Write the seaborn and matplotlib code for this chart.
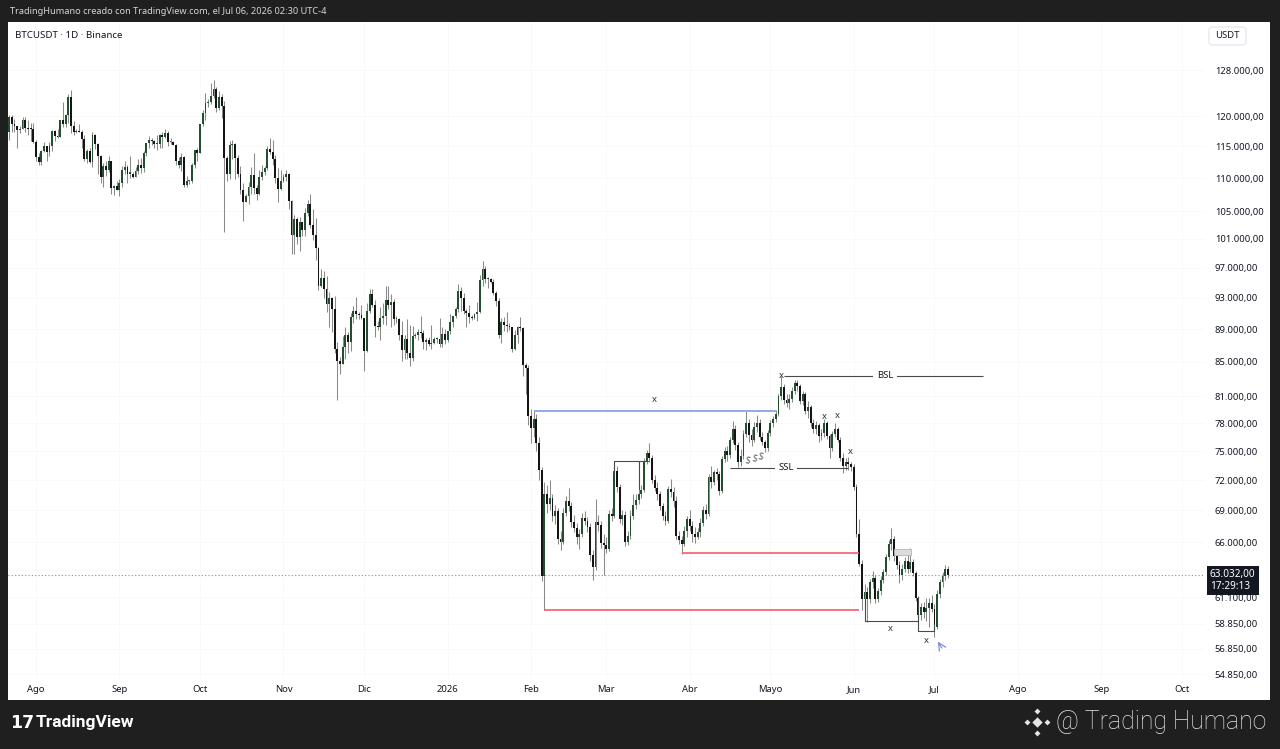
import numpy as np
import pandas as pd
import matplotlib
matplotlib.use("Agg")
import matplotlib.pyplot as plt
import matplotlib.dates as mdates
import matplotlib.ticker as mticker
from matplotlib.patches import Rectangle, FancyBboxPatch
import seaborn as sns

# BTCUSDT 1D candles, 22 Jul 2025 .. 6 Jul 2026, prices in thousands of USDT
# open of each candle = close of the previous one
start_date = "2025-07-22"
first_open = 117.4

close = [
    # jul 22-31
    119.9, 118.7, 118.3, 117.6, 117.9, 119.4, 118.0, 117.9, 117.8, 115.7,
    # aug
    113.3, 112.5, 114.2, 115.0, 114.1, 115.0, 117.5, 116.6, 116.5, 119.3,
    118.7, 120.1, 123.3, 118.3, 117.4, 117.5, 117.4, 116.2, 112.9, 114.3,
    112.5, 116.9, 115.4, 113.5, 110.1, 111.8, 111.2, 112.6, 108.4, 108.8, 108.2,
    # sep
    109.2, 111.2, 111.7, 110.7, 110.7, 110.2, 111.1, 112.1, 111.5, 113.9,
    115.5, 116.1, 115.9, 115.3, 115.4, 116.8, 116.5, 117.1, 115.7, 115.7,
    115.2, 112.7, 112.0, 113.3, 109.0, 109.6, 109.6, 112.1, 114.4, 114.0,
    # oct
    118.6, 120.5, 122.2, 122.4, 123.5, 124.7, 121.4, 123.3, 121.7, 113.2,
    110.6, 115.2, 115.3, 113.1, 110.7, 108.2, 106.4, 107.2, 108.6, 110.5,
    108.4, 107.6, 110.1, 111.0, 111.6, 114.5, 114.1, 112.9, 110.0, 108.3, 109.6,
    # nov
    110.1, 110.6, 106.5, 101.5, 103.9, 101.3, 103.4, 102.3, 104.7, 106.0,
    103.0, 101.6, 99.7, 94.5, 95.6, 94.2, 92.2, 92.9, 91.5, 86.6,
    85.1, 84.7, 86.8, 88.3, 87.4, 90.5, 91.3, 90.9, 90.8, 90.4,
    # dec
    86.3, 91.3, 93.5, 92.1, 89.4, 89.3, 90.4, 90.6, 92.7, 92.0,
    92.5, 90.3, 90.3, 88.2, 86.4, 87.8, 86.1, 85.5, 88.1, 88.3,
    88.6, 88.5, 87.4, 87.6, 87.2, 87.3, 87.8, 87.8, 87.1, 88.4, 87.6,
    # jan 2026
    88.7, 89.9, 90.6, 91.5, 93.9, 93.0, 91.3, 91.0, 90.5, 90.4,
    90.9, 91.2, 95.3, 96.8, 95.5, 95.5, 95.1, 93.6, 92.6, 88.3,
    89.9, 89.5, 89.4, 89.2, 86.6, 88.3, 89.2, 89.1, 84.6, 84.3, 78.8,
    # feb
    77.5, 78.5, 75.9, 73.0, 62.9, 70.6, 69.6, 70.2, 68.5, 68.9,
    66.3, 66.0, 68.8, 69.9, 69.4, 67.9, 67.3, 66.5, 66.8, 68.3,
    68.0, 67.4, 64.8, 63.7, 67.9, 67.6, 65.9, 65.7,
    # mar
    65.4, 68.7, 68.5, 72.9, 71.3, 68.2, 68.6, 66.0, 66.6, 68.5,
    69.5, 70.0, 70.6, 71.0, 74.0, 74.8, 74.3, 72.0, 71.2, 70.6,
    69.4, 68.5, 68.0, 71.1, 70.8, 69.9, 66.6, 66.2, 65.8, 67.0, 68.2,
    # apr
    67.5, 66.8, 66.5, 66.9, 67.8, 69.0, 68.7, 72.3, 71.8, 72.8,
    72.6, 70.9, 74.2, 75.0, 74.6, 76.2, 77.4, 75.6, 73.9, 74.5,
    76.8, 78.0, 76.7, 76.2, 77.6, 78.0, 76.5, 76.0, 75.3, 76.9,
    # may
    78.0, 78.4, 79.0, 81.0, 82.0, 80.6, 80.2, 80.7, 81.6, 82.5,
    82.2, 80.5, 81.2, 79.3, 79.8, 78.0, 77.4, 77.8, 76.6, 76.9,
    78.0, 76.6, 75.3, 76.8, 77.4, 76.2, 74.3, 73.4, 73.9, 73.6, 73.3,
    # jun
    71.3, 66.8, 64.0, 60.9, 61.5, 60.9, 62.4, 62.8, 60.9, 61.6,
    62.6, 63.3, 64.6, 65.8, 66.3, 64.7, 63.9, 63.0, 63.6, 64.3,
    63.6, 64.2, 63.2, 61.0, 59.6, 60.3, 59.8, 60.2, 60.6, 60.1,
    # jul 1-6
    58.6, 61.4, 62.4, 62.9, 63.6, 63.032,
]

high = [
    120.2, 120.1, 119.5, 118.4, 118.3, 119.8, 119.8, 119.3, 118.8, 118.9,
    116.0, 114.0, 114.4, 115.7, 115.1, 115.7, 117.6, 117.7, 117.9, 119.3,
    122.3, 120.3, 123.7, 124.5, 119.2, 117.9, 118.6, 117.6, 116.8, 114.6,
    114.8, 117.4, 117.0, 115.6, 113.6, 112.4, 112.6, 113.5, 112.7, 108.9, 109.5,
    109.9, 111.8, 112.6, 112.0, 113.4, 111.0, 111.7, 112.9, 113.2, 114.3,
    115.5, 116.7, 116.3, 116.0, 116.8, 117.0, 117.3, 117.9, 117.5, 116.3,
    115.9, 115.4, 113.3, 114.0, 113.5, 110.3, 109.7, 112.3, 114.4, 114.8,
    118.6, 121.0, 123.9, 122.9, 125.7, 126.2, 125.0, 124.2, 123.8, 122.6,
    113.4, 115.8, 116.0, 115.5, 113.6, 111.8, 109.3, 107.5, 109.4, 111.7,
    114.0, 109.0, 111.3, 112.0, 111.9, 115.0, 116.4, 116.1, 113.6, 111.6, 111.2,
    110.6, 111.2, 110.8, 106.6, 104.5, 104.2, 104.1, 103.4, 105.5, 106.7,
    107.5, 105.3, 104.0, 99.8, 96.8, 96.6, 95.9, 93.8, 93.1, 93.2,
    87.4, 85.6, 88.1, 89.2, 88.6, 91.0, 91.9, 93.1, 91.2, 92.0,
    90.4, 92.3, 94.2, 94.1, 92.7, 90.0, 91.8, 92.3, 94.6, 94.5,
    93.5, 92.8, 90.6, 90.4, 90.0, 88.2, 90.3, 89.5, 89.4, 88.5,
    89.0, 90.6, 88.9, 87.9, 88.0, 89.5, 88.0, 88.0, 90.4, 89.2, 89.0,
    88.8, 90.9, 90.7, 91.8, 94.8, 94.4, 93.6, 91.5, 92.0, 90.8,
    91.0, 92.4, 96.0, 97.9, 97.2, 95.8, 95.6, 95.5, 93.9, 92.9,
    90.4, 90.5, 91.2, 89.8, 89.3, 88.9, 89.4, 90.5, 89.2, 84.9, 84.6,
    79.5, 79.3, 79.0, 76.5, 73.3, 71.8, 71.5, 72.0, 70.6, 69.5,
    69.2, 67.0, 69.2, 70.4, 71.2, 69.8, 68.6, 67.8, 67.2, 68.8,
    68.9, 68.4, 67.8, 65.3, 70.1, 68.6, 68.0, 66.8,
    66.5, 69.0, 69.2, 74.0, 73.4, 71.6, 69.0, 68.9, 67.0, 69.0,
    70.6, 70.6, 71.2, 71.5, 74.3, 75.1, 75.9, 74.6, 72.5, 71.8,
    70.9, 69.7, 68.9, 71.4, 72.1, 71.3, 70.4, 67.0, 66.6, 67.5, 68.5,
    69.0, 68.0, 67.4, 67.3, 68.3, 69.4, 69.6, 72.6, 73.4, 73.0,
    73.2, 72.9, 74.5, 75.4, 75.5, 76.5, 78.2, 77.8, 76.0, 75.2,
    77.2, 79.3, 78.4, 77.3, 78.1, 78.9, 78.4, 77.0, 76.2, 77.2,
    78.3, 78.8, 79.4, 81.3, 83.3, 82.4, 81.3, 81.2, 82.0, 82.9,
    82.8, 82.4, 81.6, 81.5, 80.4, 80.0, 78.4, 78.2, 78.0, 77.4,
    78.5, 78.2, 76.8, 77.1, 78.0, 77.6, 76.5, 74.8, 74.3, 74.4, 73.9,
    73.6, 71.6, 68.2, 64.4, 62.2, 62.0, 62.7, 63.4, 63.0, 61.9,
    62.9, 63.6, 64.9, 66.2, 67.3, 66.6, 65.0, 64.3, 64.0, 64.6,
    65.2, 65.5, 64.5, 63.4, 61.2, 60.6, 60.7, 61.0, 61.0, 61.3,
    60.5, 61.7, 62.7, 63.3, 63.9, 63.8,
]

low = [
    116.1, 117.3, 117.4, 114.7, 117.2, 117.8, 117.4, 116.9, 115.8, 115.5,
    112.7, 112.0, 112.1, 114.1, 112.7, 113.4, 114.3, 115.9, 116.3, 116.5,
    118.1, 118.2, 118.9, 117.2, 116.8, 117.2, 117.3, 114.7, 112.7, 112.4,
    112.4, 111.7, 114.6, 110.7, 109.3, 108.7, 110.3, 110.9, 107.5, 107.4, 108.1,
    107.3, 108.7, 110.6, 109.3, 110.0, 110.0, 110.2, 110.6, 110.8, 110.9,
    113.4, 114.7, 115.2, 114.8, 114.4, 114.8, 114.7, 116.4, 115.1, 115.4,
    115.2, 112.0, 111.5, 111.1, 108.6, 108.6, 109.1, 109.2, 111.6, 112.6,
    113.9, 118.4, 119.3, 121.5, 122.1, 123.0, 120.6, 121.1, 119.7, 102.0,
    109.6, 109.8, 113.0, 109.9, 110.1, 107.5, 103.5, 106.4, 106.1, 107.5,
    107.5, 106.6, 107.4, 109.7, 110.5, 111.3, 113.8, 112.0, 109.3, 106.3, 108.2,
    109.4, 109.5, 105.3, 98.9, 98.9, 100.3, 99.3, 101.4, 101.4, 104.3,
    102.5, 100.8, 98.0, 94.0, 94.4, 93.0, 91.2, 89.3, 88.6, 86.1,
    80.6, 83.5, 84.7, 85.3, 86.1, 86.3, 89.7, 90.2, 90.2, 90.3,
    83.9, 86.2, 91.0, 91.8, 88.0, 88.9, 87.7, 89.6, 89.5, 91.6,
    89.3, 89.5, 89.8, 87.6, 85.1, 85.3, 85.3, 84.5, 85.1, 87.9,
    87.6, 87.9, 86.6, 86.4, 86.9, 86.6, 87.2, 87.3, 86.8, 86.8, 87.2,
    87.4, 88.4, 89.3, 90.4, 91.2, 91.3, 90.9, 89.3, 89.7, 90.1,
    90.2, 90.0, 91.0, 94.6, 95.0, 94.3, 94.9, 93.4, 91.9, 87.9,
    87.3, 88.8, 88.6, 88.9, 86.2, 86.4, 87.3, 88.7, 83.3, 81.2, 77.8,
    75.9, 76.5, 75.0, 72.0, 62.5, 60.0, 68.8, 69.0, 68.0, 67.7,
    65.8, 65.3, 65.8, 68.5, 68.9, 67.4, 66.9, 65.8, 65.4, 66.5,
    67.6, 66.9, 64.3, 62.6, 63.5, 67.0, 65.5, 63.0,
    65.0, 65.2, 68.0, 68.3, 70.8, 67.8, 67.6, 65.6, 65.7, 66.3,
    68.2, 69.1, 69.6, 70.2, 70.8, 73.6, 73.9, 71.7, 70.9, 70.0,
    69.0, 68.1, 67.6, 67.8, 70.3, 69.3, 66.3, 65.8, 64.9, 65.6, 66.5,
    67.0, 66.0, 65.9, 66.3, 66.5, 67.5, 68.2, 68.5, 71.2, 71.5,
    72.0, 70.5, 70.7, 73.9, 74.0, 74.3, 75.8, 75.1, 73.3, 73.4,
    74.2, 76.5, 76.0, 75.5, 76.0, 77.0, 76.2, 75.6, 74.9, 75.0,
    76.6, 77.6, 78.1, 78.8, 80.6, 80.1, 79.8, 79.6, 80.3, 81.2,
    81.6, 80.1, 80.0, 79.0, 78.6, 77.6, 76.9, 76.8, 76.0, 76.2,
    76.5, 76.3, 74.3, 75.0, 76.5, 76.0, 74.0, 72.7, 73.0, 73.0, 72.9,
    71.0, 66.5, 63.8, 60.0, 60.3, 59.0, 60.6, 61.9, 60.6, 60.7,
    61.3, 62.3, 63.0, 64.4, 65.3, 64.3, 63.6, 62.3, 62.6, 63.3,
    63.2, 63.3, 62.9, 60.8, 58.9, 59.2, 59.3, 59.1, 58.6, 59.8,
    57.8, 58.4, 61.0, 62.0, 62.6, 62.8,
]

last_price = 63032
countdown = "17:29:13"

price_ticks = [128000, 120000, 115000, 110000, 105000, 101000, 97000, 93000,
               89000, 85000, 81000, 78000, 75000, 72000, 69000, 66000,
               63500, 61100, 58850, 56850, 54850]
month_starts = ["2025-08-01", "2025-09-01", "2025-10-01", "2025-11-01",
                "2025-12-01", "2026-01-01", "2026-02-01", "2026-03-01",
                "2026-04-01", "2026-05-01", "2026-06-01", "2026-07-01",
                "2026-08-01", "2026-09-01", "2026-10-01"]
month_labels = ["Ago", "Sep", "Oct", "Nov", "Dic", "2026", "Feb", "Mar",
                "Abr", "Mayo", "Jun", "Jul", "Ago", "Sep", "Oct"]

# chart drawings: (price level, start date, end date)
blue_line = (79300, "2026-02-02", "2026-05-03")
red_low = (60000, "2026-02-06", "2026-06-03")
red_mid = (64970, "2026-03-29", "2026-06-03")
bsl = (83340, "2026-05-06", "2026-07-19")
ssl = (73270, "2026-04-16", "2026-05-30")
x_marks = [("2026-03-19", 80600), ("2026-05-05", 83340), ("2026-05-21", 78700),
           ("2026-05-26", 78800), ("2026-05-30 14:00", 75000),
           ("2026-06-14 18:00", 58500), ("2026-06-27 20:00", 57500)]
s_marks = [("2026-04-22 08:00", 73900), ("2026-04-24 22:00", 74200),
           ("2026-04-27 12:00", 74400)]

# ---- frame
dates = pd.date_range(start_date, periods=len(close), freq="D")
df = pd.DataFrame({"date": dates,
                   "close": np.array(close) * 1000,
                   "high": np.array(high) * 1000,
                   "low": np.array(low) * 1000})
df["open"] = df["close"].shift(1).fillna(first_open * 1000)
df["up"] = df["close"] >= df["open"]


def d(s):
    return mdates.date2num(pd.Timestamp(s))


def fmt_price(v, pos=None):
    s = f"{v:,.2f}"
    return s.replace(",", "X").replace(".", ",").replace("X", ".")


sns.set_theme(style="white")
plt.rcParams["font.family"] = ["Noto Sans", "DejaVu Sans"]

W, H = 1280, 749
txt = "#131722"
fig = plt.figure(figsize=(W / 100, H / 100), dpi=100, facecolor="#1f1f1f")
fig.patches.append(Rectangle((8 / W, 1 - 700 / H), (1270 - 8) / W, (700 - 22) / H,
                             transform=fig.transFigure, fc="white", ec="none",
                             zorder=-1))
ax = fig.add_axes([8 / W, 1 - 680 / H, (1205 - 8) / W, (680 - 22) / H])
ax.set_facecolor("white")

# candles
x = mdates.date2num(df["date"])
body_lo = np.minimum(df["open"], df["close"])
body_h = np.maximum((df["close"] - df["open"]).abs(), df["close"] * 0.0015)
colors = np.where(df["up"], "#22502f", "#141414")
ax.vlines(x, df["low"], df["high"], color="#8a8a8a", lw=0.75, zorder=2)
ax.bar(x, body_h, bottom=body_lo, width=0.7, color=colors, lw=0, zorder=3)

# axes
aug1 = d("2025-08-01")
ax.set_yscale("log")
ax.set_ylim(54393, 136918)
ax.set_xlim(aug1 - 10.41, aug1 + 434.57)
ax.yaxis.tick_right()
ax.set_yticks(price_ticks)
ax.yaxis.set_major_formatter(mticker.FuncFormatter(fmt_price))
ax.yaxis.set_minor_locator(mticker.NullLocator())
ax.tick_params(axis="y", length=0, pad=7, labelsize=6.8, labelcolor=txt)
ax.set_xticks([d(m) for m in month_starts])
ax.set_xticklabels(month_labels)
ax.tick_params(axis="x", length=0, pad=3.5, labelsize=6.8, labelcolor=txt)
ax.get_xticklabels()[5].set_fontweight("bold")
for sp in ax.spines.values():
    sp.set_visible(False)
ax.grid(True, color="#f7f7f7", lw=0.5, zorder=0)

# current price
ax.axhline(last_price, color="#8c8c8c", ls=(0, (1, 2)), lw=0.8, zorder=1)
ax.annotate(f"{fmt_price(last_price)}\n{countdown}", xy=(1, last_price),
            xycoords=ax.get_yaxis_transform(), xytext=(3.4, 4.2),
            textcoords="offset points", ha="left", va="top", fontsize=7.2,
            color="white", fontweight="bold", linespacing=1.1,
            bbox=dict(boxstyle="square,pad=0.32", fc="#131722", ec="none"),
            annotation_clip=False, zorder=10)

# drawings
ax.hlines(blue_line[0], d(blue_line[1]), d(blue_line[2]), color="#8eaaf0", lw=1.4, zorder=4)
for lvl in (red_low, red_mid):
    ax.hlines(lvl[0], d(lvl[1]), d(lvl[2]), color="#f25c6b", lw=1.2, zorder=4)
line_kw = dict(color="#4a4a4a", lw=0.8, zorder=4)
ax.plot([d("2026-03-04"), d("2026-03-04"), d("2026-03-16 12:00")], [72600, 74000, 74000], **line_kw)
ax.plot([d("2026-03-13"), d("2026-03-13")], [74000, 71100], **line_kw)
for lvl, lab, xl in ((bsl, "BSL", "2026-06-12 14:00"), (ssl, "SSL", "2026-05-06 20:00")):
    ax.hlines(lvl[0], d(lvl[1]), d(lvl[2]), **line_kw)
    ax.text(d(xl), lvl[0], lab, ha="center", va="center", fontsize=6.8, color=txt,
            bbox=dict(fc="white", ec="none", pad=2.5), zorder=5)
for dt, p in x_marks:
    ax.text(d(dt), p, "x", ha="center", va="center", fontsize=6.8, color="#333333", zorder=5)
for dt, p in s_marks:
    ax.text(d(dt), p, "S", ha="center", va="center", fontsize=6.4, color="#444444",
            rotation=-12, zorder=5)
ax.add_patch(Rectangle((d("2026-06-16"), 64800), 6.3, 600, fc="#dcdcdc",
                       ec="#b5b5b5", lw=0.6, zorder=4))
ax.plot([d("2026-06-05"), d("2026-06-05"), d("2026-06-25"), d("2026-06-25")],
        [60900, 59050, 59050, 61100], **line_kw)
ax.plot([d("2026-06-25"), d("2026-06-25"), d("2026-07-01"), d("2026-07-01")],
        [59050, 58300, 58300, 58850], **line_kw)
ax.annotate("", xy=(d("2026-07-01 17:00"), 57600), xytext=(d("2026-07-04 07:00"), 56700),
            arrowprops=dict(arrowstyle="->,head_length=0.45,head_width=0.22",
                            color="#7b8fd0", lw=0.9), zorder=5)

# header / footer overlay in pixel coords
ov = fig.add_axes([0, 0, 1, 1], zorder=5)
ov.set_xlim(0, W)
ov.set_ylim(H, 0)
ov.axis("off")
ov.text(10, 12, "TradingHumano creado con TradingView.com, el Jul 06, 2026 02:30 UTC-4",
        ha="left", va="center", fontsize=6.6, color="#d6d6d6")
ov.text(15, 35, "BTCUSDT · 1D · Binance", ha="left", va="center", fontsize=7, color=txt)
ov.add_patch(FancyBboxPatch((1209, 27), 37, 18, boxstyle="round,pad=0,rounding_size=3",
                            fc="white", ec="#e0e3eb", lw=0.8))
ov.text(1227.5, 36, "USDT", ha="center", va="center", fontsize=6.8, color=txt)
ov.text(10, 723, "17", ha="left", va="center", fontsize=12.5, color="white",
        fontweight="black", family="DejaVu Sans")
ov.text(36, 723, "TradingView", ha="left", va="center", fontsize=12.5, color="white",
        fontweight="bold", family="Roboto")
ov.scatter([1037], [722], marker="D", s=28, color="#e4e4e4", lw=0)
ov.scatter([1037, 1037, 1027, 1047], [711, 733, 722, 722], marker="D", s=9,
           color="#e4e4e4", lw=0)
ov.text(1056, 722, "@ Trading Humano", ha="left", va="center", fontsize=17.8,
        color="#e6e6e6", fontweight="light", family="Roboto")

fig.savefig("out.png", dpi=100, facecolor=fig.get_facecolor())
